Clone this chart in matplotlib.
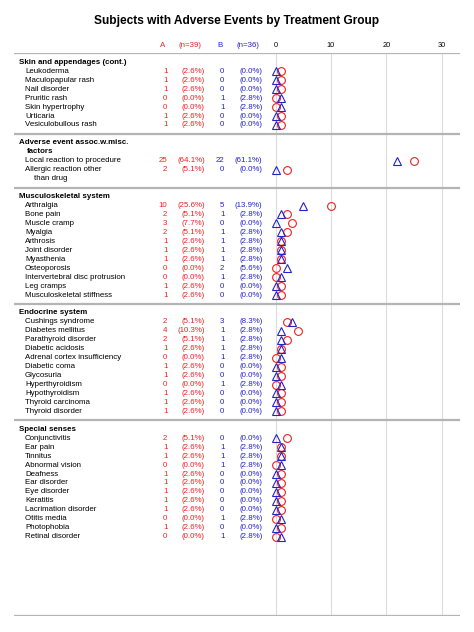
import matplotlib
matplotlib.use("Agg")
import matplotlib.pyplot as plt

plt.rcParams['font.family'] = ['Liberation Sans', 'DejaVu Sans']

# body systems and their adverse events (name, count A, % A, count B, % B)
sections = ["Skin and appendages (cont.)",
            "Adverse event assoc.w.misc.\nfactors",
            "Musculoskeletal system",
            "Endocrine system",
            "Special senses"]

events = [
    ["Leukoderma", "Maculopapular rash", "Nail disorder", "Pruritic rash",
     "Skin hypertrophy", "Urticaria", "Vesiculobullous rash"],
    ["Local reaction to procedure", "Allergic reaction other\nthan drug"],
    ["Arthralgia", "Bone pain", "Muscle cramp", "Myalgia", "Arthrosis",
     "Joint disorder", "Myasthenia", "Osteoporosis",
     "Intervertebral disc protrusion", "Leg cramps", "Musculoskeletal stiffness"],
    ["Cushings syndrome", "Diabetes mellitus", "Parathyroid disorder",
     "Diabetic acidosis", "Adrenal cortex insufficiency", "Diabetic coma",
     "Glycosuria", "Hyperthyroidism", "Hypothyroidism", "Thyroid carcinoma",
     "Thyroid disorder"],
    ["Conjunctivitis", "Ear pain", "Tinnitus", "Abnormal vision", "Deafness",
     "Ear disorder", "Eye disorder", "Keratitis", "Lacrimation disorder",
     "Otitis media", "Photophobia", "Retinal disorder"],
]

count_a = [
    [1, 1, 1, 0, 0, 1, 1],
    [25, 2],
    [10, 2, 3, 2, 1, 1, 1, 0, 0, 1, 1],
    [2, 4, 2, 1, 0, 1, 1, 0, 1, 1, 1],
    [2, 1, 1, 0, 1, 1, 1, 1, 1, 0, 1, 0],
]
pct_a = [
    [2.6, 2.6, 2.6, 0.0, 0.0, 2.6, 2.6],
    [64.1, 5.1],
    [25.6, 5.1, 7.7, 5.1, 2.6, 2.6, 2.6, 0.0, 0.0, 2.6, 2.6],
    [5.1, 10.3, 5.1, 2.6, 0.0, 2.6, 2.6, 0.0, 2.6, 2.6, 2.6],
    [5.1, 2.6, 2.6, 0.0, 2.6, 2.6, 2.6, 2.6, 2.6, 0.0, 2.6, 0.0],
]
count_b = [
    [0, 0, 0, 1, 1, 0, 0],
    [22, 0],
    [5, 1, 0, 1, 1, 1, 1, 2, 1, 0, 0],
    [3, 1, 1, 1, 1, 0, 0, 1, 0, 0, 0],
    [0, 1, 1, 1, 0, 0, 0, 0, 0, 1, 0, 1],
]
pct_b = [
    [0.0, 0.0, 0.0, 2.8, 2.8, 0.0, 0.0],
    [61.1, 0.0],
    [13.9, 2.8, 0.0, 2.8, 2.8, 2.8, 2.8, 5.6, 2.8, 0.0, 0.0],
    [8.3, 2.8, 2.8, 2.8, 2.8, 0.0, 0.0, 2.8, 0.0, 0.0, 0.0],
    [0.0, 2.8, 2.8, 2.8, 0.0, 0.0, 0.0, 0.0, 0.0, 2.8, 0.0, 2.8],
]
n_a, n_b = 39, 36
ticks = [0, 10, 20, 30]

RED = "#f02020"
BLUE = "#2323c8"
FS = 5.7

W, H = 474, 632
fig = plt.figure(figsize=(W / 100, H / 100), dpi=100)

# axes spans the table area; x in counts, y in rows (row 0 = top rule)
left_px, right_px, top_px, bot_px = 14, 460, 53.4, 615.7
ax = fig.add_axes([left_px / W, 1 - bot_px / H, (right_px - left_px) / W, (bot_px - top_px) / H])
zero_px, unit_px = 275.7, 5.53


def px2x(px):
    return (px - zero_px) / unit_px


nrows = (bot_px - top_px) / 8.95
ax.set_xlim(px2x(left_px), px2x(right_px))
ax.set_ylim(nrows, 0)
for s in ax.spines.values():
    s.set_visible(False)
ax.set_yticks([])
ax.xaxis.tick_top()
ax.set_xticks(ticks)
ax.set_xticklabels([str(t) for t in ticks], fontsize=FS - 0.4)
ax.tick_params(axis='x', length=0, pad=3.2)

ax.vlines(ticks, 0, nrows, color="#dcdcdc", lw=0.8, zorder=0)

x_head, x_item = px2x(19), px2x(25)
x_ca, x_pa, x_cb, x_pb = px2x(167.5), px2x(205), px2x(224.5), px2x(262.5)

# column headers
hy = -0.9
ax.text(px2x(162.7), hy, "A", color=RED, fontsize=FS, ha='center', va='center')
ax.text(px2x(189.7), hy, f"(n={n_a})", color=RED, fontsize=FS, ha='center', va='center')
ax.text(px2x(219.7), hy, "B", color=BLUE, fontsize=FS, ha='center', va='center')
ax.text(px2x(248.3), hy, f"(n={n_b})", color=BLUE, fontsize=FS, ha='center', va='center')

rule_x = (px2x(left_px), px2x(right_px))
ax.hlines(0, *rule_x, color="#b4b4b4", lw=1.6)

row = 1
for k, sec in enumerate(sections):
    for j, line in enumerate(sec.split("\n")):
        ax.text(x_head + (1.4 if j else 0), row, line, fontsize=FS, fontweight='bold',
                ha='left', va='center')
        row += 1
    for name, ca, pa, cb, pb in zip(events[k], count_a[k], pct_a[k], count_b[k], pct_b[k]):
        for j, line in enumerate(name.split("\n")):
            ax.text(x_item + (1.6 if j else 0), row + j, line, fontsize=FS,
                    ha='left', va='center')
        ax.text(x_ca, row, str(ca), color=RED, fontsize=FS, ha='right', va='center')
        ax.text(x_pa, row, f"({pa:.1f}%)", color=RED, fontsize=FS, ha='right', va='center')
        ax.text(x_cb, row, str(cb), color=BLUE, fontsize=FS, ha='right', va='center')
        ax.text(x_pb, row, f"({pb:.1f}%)", color=BLUE, fontsize=FS, ha='right', va='center')
        ax.plot(ca, row, 'o', ms=5.6, mfc='none', mec=RED, mew=0.8, zorder=3)
        ax.plot(cb, row, '^', ms=6.0, mfc='none', mec=BLUE, mew=0.8, zorder=4)
        row += len(name.split("\n"))
    if k < len(sections) - 1:
        ax.hlines(row, *rule_x, color="#b4b4b4", lw=1.6)
        row += 1

ax.hlines(nrows, *rule_x, color="#b4b4b4", lw=1.6)

fig.text(237 / W, 1 - 20.7 / H, "Subjects with Adverse Events by Treatment Group",
         fontsize=8.6, fontweight='bold', ha='center', va='center')

fig.savefig("out.png", dpi=100)
